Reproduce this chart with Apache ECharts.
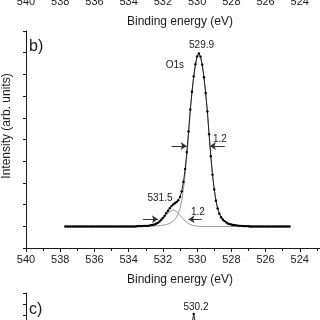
<!DOCTYPE html>
<html>
<head>
<meta charset="utf-8">
<script src="https://cdn.jsdelivr.net/npm/echarts@6/dist/echarts.min.js"></script>
<style>
  html, body { margin: 0; padding: 0; background: #fff; }
  #chart { width: 320px; height: 320px; }
</style>
</head>
<body>
<div id="chart"></div>
<script>
// O1s spectrum, panel b (binding energy in eV, intensity in arb. units)
const energies = [
  537.7, 537.6, 537.5, 537.4, 537.3, 537.2, 537.1, 537.0, 536.9, 536.8,
  536.7, 536.6, 536.5, 536.4, 536.3, 536.2, 536.1, 536.0, 535.9, 535.8,
  535.7, 535.6, 535.5, 535.4, 535.3, 535.2, 535.1, 535.0, 534.9, 534.8,
  534.7, 534.6, 534.5, 534.4, 534.3, 534.2, 534.1, 534.0, 533.9, 533.8,
  533.7, 533.6,
  533.5, 533.4, 533.3, 533.2, 533.1, 533.0, 532.9, 532.8, 532.7, 532.6,
  532.5, 532.4, 532.3, 532.2, 532.1, 532.0, 531.9, 531.8, 531.7, 531.6,
  531.5, 531.4, 531.3, 531.2, 531.1, 531.0, 530.9, 530.8, 530.7, 530.6,
  530.5, 530.4, 530.3, 530.2, 530.1, 530.0, 529.9, 529.8, 529.7, 529.6,
  529.5, 529.4, 529.3, 529.2, 529.1, 529.0, 528.9, 528.8, 528.7, 528.6,
  528.5, 528.4, 528.3, 528.2, 528.1, 528.0, 527.9, 527.8, 527.7, 527.6,
  527.5, 527.4, 527.3, 527.2, 527.1, 527.0,
  526.9, 526.8, 526.7, 526.6, 526.5, 526.4, 526.3, 526.2, 526.1, 526.0,
  525.9, 525.8, 525.7, 525.6, 525.5, 525.4, 525.3, 525.2, 525.1, 525.0,
  524.9, 524.8, 524.7, 524.6
];
const intensity = [
  0.99, 0.99, 0.99, 0.99, 0.99, 0.99, 0.99, 0.99, 0.99, 0.99,
  0.99, 0.99, 0.99, 0.99, 0.99, 0.99, 0.99, 0.99, 0.99, 0.99,
  0.99, 0.99, 0.99, 0.99, 0.99, 0.99, 0.99, 0.99, 0.99, 0.99,
  0.99, 0.99, 0.99, 0.99, 0.99, 0.99, 0.99, 0.99, 0.99, 0.99,
  0.99, 0.99,
  1.00, 1.01, 1.01, 1.01, 1.02, 1.02, 1.02, 1.03, 1.05, 1.06,
  1.08, 1.12, 1.16, 1.22, 1.30, 1.39, 1.49, 1.61, 1.72, 1.83,
  1.93, 2.01, 2.06, 2.12, 2.20, 2.35, 2.61, 3.04, 3.64, 4.42,
  5.37, 6.38, 7.20, 7.91, 8.47, 8.83, 8.96, 8.82, 8.45, 7.87,
  7.14, 6.29, 5.24, 4.23, 3.38, 2.70, 2.18, 1.82, 1.58, 1.42,
  1.31, 1.24, 1.18, 1.13, 1.10, 1.08, 1.06, 1.05, 1.04, 1.03,
  1.02, 1.02, 1.01, 1.01, 1.01, 1.00,
  0.99, 0.99, 0.99, 0.99, 0.99, 0.99, 0.99, 0.99, 0.99, 0.99,
  0.99, 0.99, 0.99, 0.99, 0.99, 0.99, 0.99, 0.99, 0.99, 0.99,
  0.99, 0.99, 0.99, 0.99
];

// fitted components (grey)
const fitEnergies = [
  532.6, 532.5, 532.4, 532.3, 532.2, 532.1, 532.0, 531.9, 531.8, 531.7,
  531.6, 531.5, 531.4, 531.3, 531.2, 531.1, 531.0, 530.9, 530.8, 530.7,
  530.6, 530.5, 530.4, 530.3, 530.2, 530.1, 530.0, 529.9, 529.8, 529.7,
  529.6, 529.5, 529.4, 529.3, 529.2, 529.1, 529.0, 528.9, 528.8, 528.7,
  528.6, 528.5, 528.4, 528.3, 528.2, 528.1, 528.0, 527.9, 527.8
];
const fitMain = [
  1.01, 1.01, 1.02, 1.02, 1.03, 1.04, 1.05, 1.06, 1.08, 1.10,
  1.13, 1.18, 1.24, 1.31, 1.42, 1.58, 1.82, 2.18, 2.70, 3.38,
  4.23, 5.23, 6.28, 7.13, 7.86, 8.43, 8.80, 8.94, 8.80, 8.43,
  7.86, 7.13, 6.28, 5.23, 4.23, 3.38, 2.70, 2.18, 1.82, 1.58,
  1.42, 1.31, 1.24, 1.18, 1.13, 1.10, 1.08, 1.06, 1.05
];
const fitShoulder = [
  1.03, 1.05, 1.08, 1.12, 1.17, 1.24, 1.32, 1.41, 1.51, 1.60,
  1.68, 1.73, 1.75, 1.73, 1.68, 1.60, 1.51, 1.41, 1.32, 1.24,
  1.17, 1.12, 1.08, 1.05, 1.03, 1.02, 1.01, 1.00, 0.99, 0.99,
  0.99, 0.99, 0.99, 0.99, 0.99, 0.99, 0.99, 0.99, 0.99, 0.99,
  0.99, 0.99, 0.99, 0.99, 0.99, 0.99, 0.99, 0.99, 0.99
];

// top of the panel c peak (only its tip is visible)
const peakCEnergies = [530.4, 530.3, 530.2, 530.1, 530.0];
const peakCValues = [5.5, 7.2, 8.1, 7.2, 5.5];

// annotations: [text, energy, intensity]
const notes = [
  ["529.9", 529.74, 9.35],
  ["O1s", 531.3, 8.43],
  ["1.2", 528.67, 5.02],
  ["531.5", 532.17, 2.30],
  ["1.2", 529.95, 1.66]
];
// FWHM arrows: [from, to, intensity]
const arrows = [
  [531.49, 530.61, 4.7],
  [528.38, 529.25, 4.7],
  [533.17, 532.29, 1.32],
  [529.74, 530.5, 1.32]
];

const zip = (xs, ys) => xs.map((x, i) => [x, ys[i]]);
const FONT = "Liberation Sans, Arial, sans-serif";
const INK = "#1a1a1a";

function energyAxis(gridIndex, showLabels) {
  return {
    type: "value", gridIndex, min: 522, max: 540, interval: 2, inverse: true,
    name: showLabels ? "Binding energy (eV)" : "",
    nameLocation: "middle", nameGap: 26,
    nameTextStyle: { fontSize: 12, color: INK, fontFamily: FONT },
    axisLine: { show: true, lineStyle: { color: INK, width: 1 } },
    axisTick: { show: true, inside: false, length: 4, lineStyle: { color: INK } },
    minorTick: { show: true, splitNumber: 2, length: 3, lineStyle: { color: INK } },
    axisLabel: { show: showLabels, fontSize: 11, color: INK, margin: 6, fontFamily: FONT,
      formatter: v => (v >= 524 ? v : "") },
    splitLine: { show: false }
  };
}

function intensityAxis(gridIndex, show) {
  return {
    type: "value", gridIndex, min: 0, max: 10, interval: 1, show,
    axisLine: { show: true, lineStyle: { color: INK, width: 1 } },
    axisTick: { show: true, inside: false, length: 3, lineStyle: { color: INK } },
    axisLabel: { show: false },
    splitLine: { show: false }
  };
}

const chart = echarts.init(document.getElementById("chart"));
chart.setOption({
  animation: false,
  backgroundColor: "#fff",
  textStyle: { fontFamily: FONT },
  grid: [
    { left: 26, right: -14, top: -100, height: 90, outerBoundsMode: "none", containLabel: false },
    { left: 26, right: -14, top: 31, height: 217, outerBoundsMode: "none", containLabel: false },
    { left: 26, right: -14, top: 293, height: 110, outerBoundsMode: "none", containLabel: false }
  ],
  xAxis: [energyAxis(0, true), energyAxis(1, true), Object.assign(energyAxis(2, false), { show: false })],
  yAxis: [intensityAxis(0, false), intensityAxis(1, true), intensityAxis(2, true)],
  graphic: [
    { type: "text", left: 29, top: 39, style: { text: "b)", fontSize: 16, fill: INK, fontFamily: FONT } },
    { type: "text", left: 29, top: 302, style: { text: "c)", fontSize: 16, fill: INK, fontFamily: FONT } },
    { type: "text", x: 7, y: 126, rotation: Math.PI / 2,
      style: { text: "Intensity (arb. units)", fontSize: 12, fill: INK, fontFamily: FONT,
        align: "center", verticalAlign: "middle" } },
    { type: "text", x: 196, y: 307,
      style: { text: "530.2", fontSize: 10, fill: INK, fontFamily: FONT, align: "center", verticalAlign: "middle" } }
  ],
  series: [
    {
      type: "line", xAxisIndex: 1, yAxisIndex: 1, data: zip(fitEnergies, fitMain),
      symbol: "none", lineStyle: { color: "#9a9a9a", width: 1 }, z: 2
    },
    {
      type: "line", xAxisIndex: 1, yAxisIndex: 1, data: zip(fitEnergies, fitShoulder),
      symbol: "none", lineStyle: { color: "#9a9a9a", width: 1 }, z: 2
    },
    {
      type: "line", xAxisIndex: 1, yAxisIndex: 1, data: zip(energies, intensity),
      symbol: "circle", symbolSize: 2.4, showAllSymbol: true,
      itemStyle: { color: "#000" }, lineStyle: { color: "#222", width: 1 }, z: 3,
      markPoint: {
        silent: true, symbol: "circle", symbolSize: 1,
        itemStyle: { color: "transparent" },
        label: { show: true, position: "inside", fontSize: 10, color: INK, fontFamily: FONT },
        data: notes.map(([t, x, y]) => ({ coord: [x, y], value: t, label: { formatter: t } }))
      },
      markLine: {
        silent: true, symbol: ["none", "arrow"], symbolSize: 6,
        label: { show: false },
        lineStyle: { color: "#333", type: "solid", width: 1 },
        data: arrows.map(([a, b, y]) => [{ coord: [a, y] }, { coord: [b, y] }])
      }
    },
    {
      type: "line", xAxisIndex: 2, yAxisIndex: 2, data: zip(peakCEnergies, peakCValues),
      symbol: "circle", symbolSize: 2.4, itemStyle: { color: "#000" },
      lineStyle: { color: "#222", width: 1 }
    }
  ]
});
</script>
</body>
</html>
